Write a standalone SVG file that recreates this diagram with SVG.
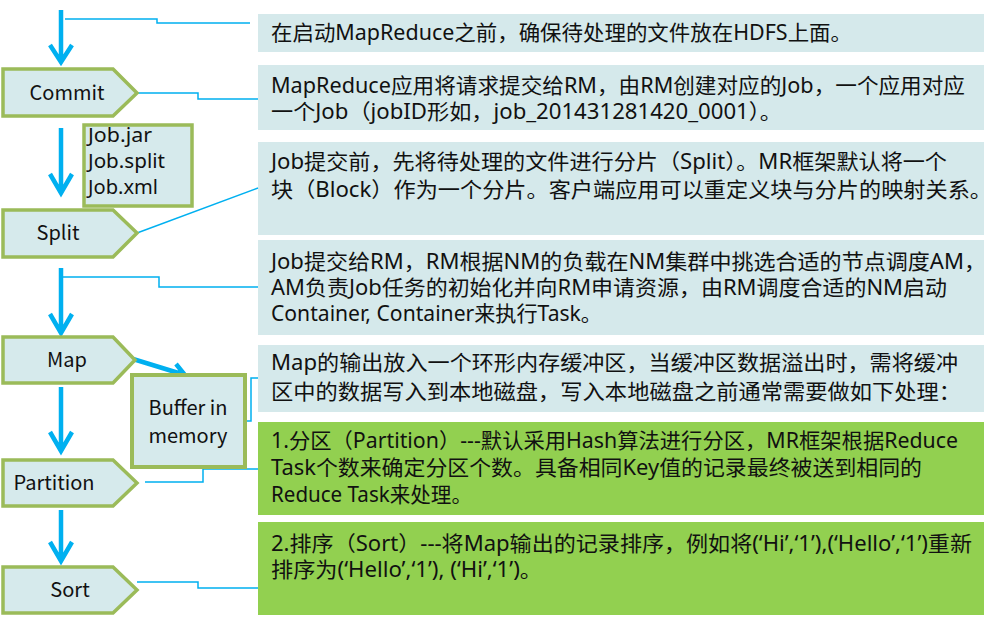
<svg xmlns="http://www.w3.org/2000/svg" width="989" height="621" viewBox="0 0 989 621">
<style>
.bg{fill:#ffffff}
.info{fill:#D5E9EB}
.hot{fill:#92D050}
.node{fill:#D6EAEC;stroke:#9BBB59;stroke-width:3.5;stroke-linejoin:miter}
.t{font-family:"Noto Sans","Noto Sans CJK SC",sans-serif;font-size:21px;fill:#111111}
.lbl{font-family:"Noto Sans CJK SC","Noto Sans",sans-serif;font-size:20px;fill:#111111;text-anchor:middle}
.job{font-family:"Noto Sans",sans-serif;font-size:19px;fill:#111111}
.flow{fill:none;stroke:#00B0F0;stroke-width:4.5;stroke-linecap:butt;stroke-linejoin:miter}
.thin{fill:none;stroke:#00B0F0;stroke-width:1.5}
</style>
<rect class="bg" x="0" y="0" width="989" height="621"/>

<g id="info-hdfs">
<rect class="info" x="258" y="14" width="726" height="38"/>
<text class="t" x="271" y="40" textLength="581" lengthAdjust="spacingAndGlyphs">在启动MapReduce之前，确保待处理的文件放在HDFS上面。</text>
</g>
<g id="info-commit">
<rect class="info" x="258" y="65" width="726" height="65"/>
<text class="t" x="271" y="93" textLength="694" lengthAdjust="spacingAndGlyphs">MapReduce应用将请求提交给RM，由RM创建对应的Job，一个应用对应</text>
<text class="t" x="271" y="119" textLength="511" lengthAdjust="spacingAndGlyphs">一个Job（jobID形如，job_201431281420_0001）。</text>
</g>
<g id="info-split">
<rect class="info" x="258" y="142" width="726" height="93"/>
<text class="t" x="271" y="169" textLength="676" lengthAdjust="spacingAndGlyphs">Job提交前，先将待处理的文件进行分片（Split）。MR框架默认将一个</text>
<text class="t" x="271" y="197" textLength="721" lengthAdjust="spacingAndGlyphs">块（Block）作为一个分片。客户端应用可以重定义块与分片的映射关系。</text>
</g>
<g id="info-map">
<rect class="info" x="258" y="240" width="726" height="95"/>
<text class="t" x="271" y="269" textLength="715" lengthAdjust="spacingAndGlyphs">Job提交给RM，RM根据NM的负载在NM集群中挑选合适的节点调度AM，</text>
<text class="t" x="271" y="295" textLength="676" lengthAdjust="spacingAndGlyphs">AM负责Job任务的初始化并向RM申请资源，由RM调度合适的NM启动</text>
<text class="t" x="271" y="321" textLength="331" lengthAdjust="spacingAndGlyphs">Container, Container来执行Task。</text>
</g>
<g id="info-buffer">
<rect class="info" x="258" y="345" width="726" height="67"/>
<text class="t" x="271" y="370" textLength="687" lengthAdjust="spacingAndGlyphs">Map的输出放入一个环形内存缓冲区，当缓冲区数据溢出时，需将缓冲</text>
<text class="t" x="271" y="399" textLength="690" lengthAdjust="spacingAndGlyphs">区中的数据写入到本地磁盘，写入本地磁盘之前通常需要做如下处理：</text>
</g>
<g id="info-partition">
<rect class="hot" x="258" y="422" width="726" height="93"/>
<text class="t" x="271" y="448" textLength="687" lengthAdjust="spacingAndGlyphs">1.分区（Partition）---默认采用Hash算法进行分区，MR框架根据Reduce</text>
<text class="t" x="271" y="475" textLength="651" lengthAdjust="spacingAndGlyphs">Task个数来确定分区个数。具备相同Key值的记录最终被送到相同的</text>
<text class="t" x="271" y="502" textLength="201" lengthAdjust="spacingAndGlyphs">Reduce Task来处理。</text>
</g>
<g id="info-sort">
<rect class="hot" x="258" y="522" width="726" height="93"/>
<text class="t" x="271" y="551" textLength="701" lengthAdjust="spacingAndGlyphs">2.排序（Sort）---将Map输出的记录排序，例如将(‘Hi’,‘1’),(‘Hello’,‘1’)重新</text>
<text class="t" x="271" y="577" textLength="271" lengthAdjust="spacingAndGlyphs">排序为(‘Hello’,‘1’), (‘Hi’,‘1’)。</text>
</g>

<g id="connectors">
<path class="thin" d="M65,19 H157 V23 H250"/>
<path class="thin" d="M137,93 H198 V99 H258"/>
<path class="thin" d="M137,233 L258,188"/>
<path class="thin" d="M61,277 H159 V287 H258"/>
<path class="thin" d="M246,421 H251 V378 H258"/>
<path class="thin" d="M145,482 H203 V469 H258"/>
<path class="thin" d="M137,582 H198 V588 H258"/>
<path class="flow" d="M61,10 V62 M50,45 L61,62 L72,45"/>
<path class="flow" d="M61,128 V193 M50,174 L61,193 L72,174"/>
<path class="flow" d="M61,268 V333 M50,314 L61,333 L72,314"/>
<path class="flow" d="M61,387 V451 M50,432 L61,451 L72,432"/>
<path class="flow" d="M61,510 V561 M50,542 L61,561 L72,542"/>
<path class="flow" d="M133,359 L185,375 M176,364 L185,375 L172,379"/>
</g>

<g id="node-commit">
<polygon class="node" points="3,69 113,69 137,93 113,116 3,116"/>
<text class="lbl" x="67" y="100">Commit</text>
</g>
<g id="node-jobfiles">
<rect class="node" x="84" y="125" width="108" height="81"/>
<text class="job" x="88" y="142" textLength="64" lengthAdjust="spacingAndGlyphs">Job.jar</text>
<text class="job" x="88" y="168" textLength="77" lengthAdjust="spacingAndGlyphs">Job.split</text>
<text class="job" x="88" y="194" textLength="70" lengthAdjust="spacingAndGlyphs">Job.xml</text>
</g>
<g id="node-split">
<polygon class="node" points="3,210 113,210 137,233 113,257 3,257"/>
<text class="lbl" x="58" y="240">Split</text>
</g>
<g id="node-map">
<polygon class="node" points="3,337 113,337 135,360 113,383 3,383"/>
<text class="lbl" x="67" y="367">Map</text>
</g>
<g id="node-buffer">
<rect class="node" x="132" y="375" width="113" height="92" style="stroke-width:4"/>
<text class="lbl" x="188" y="415">Buffer in</text>
<text class="lbl" x="188" y="443">memory</text>
</g>
<g id="node-partition">
<polygon class="node" points="3,460 113,460 137,483 113,506 3,506"/>
<text class="lbl" x="54" y="490">Partition</text>
</g>
<g id="node-sort">
<polygon class="node" points="3,567 113,567 137,590 113,613 3,613"/>
<text class="lbl" x="70" y="597">Sort</text>
</g>
</svg>
